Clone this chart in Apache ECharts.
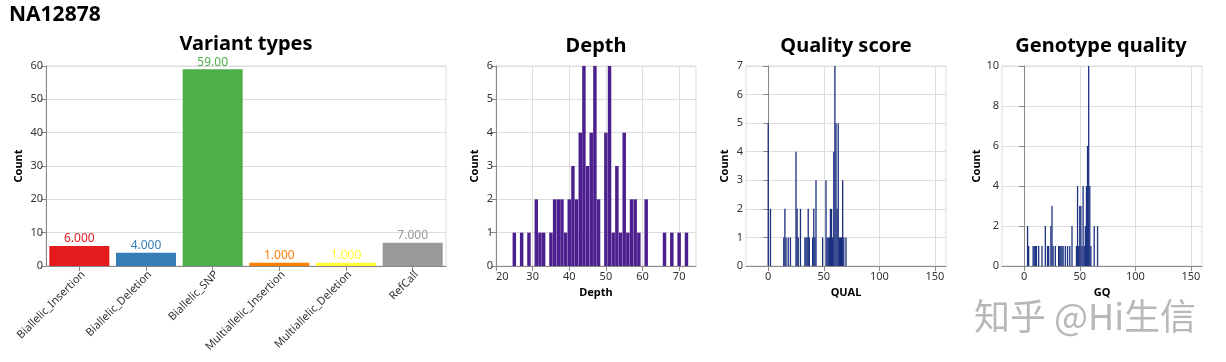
<!DOCTYPE html>
<html>
<head>
<meta charset="utf-8">
<script src="https://cdn.jsdelivr.net/npm/echarts@6/dist/echarts.min.js"></script>
<style>
html,body{margin:0;padding:0;background:#fff;}
#main{width:1226px;height:362px;}
</style>
</head>
<body>
<div id="main"></div>
<script>
// ---------- data ----------
const variantTypes = ['Biallelic_Insertion', 'Biallelic_Deletion', 'Biallelic_SNP', 'Multiallelic_Insertion', 'Multiallelic_Deletion', 'RefCall'];
const variantCounts = [6, 4, 59, 1, 1, 7];

const depthValues = [25, 27, 29, 31, 32, 33, 35, 36, 37, 38, 39, 40, 41, 42, 43, 44, 45, 46, 47, 48, 50, 51, 52, 53, 54, 55, 56, 57, 58, 59, 61, 66, 68, 70, 72];
const depthCounts = [1, 1, 1, 2, 1, 1, 1, 2, 2, 2, 1, 2, 3, 2, 4, 6, 3, 4, 6, 2, 4, 6, 1, 3, 1, 4, 1, 2, 2, 1, 2, 1, 1, 1, 1];

const qualValues = [0, 2, 14, 15, 16, 18, 20, 25, 26, 27, 29, 33, 34, 35, 36, 37, 40, 41, 42, 43, 49, 52, 53, 54, 55, 56, 57, 58, 59, 60, 61, 62, 63, 64, 65, 66, 67, 68, 70];
const qualCounts = [5, 2, 1, 2, 1, 1, 1, 4, 2, 1, 2, 1, 1, 1, 2, 1, 1, 2, 1, 3, 1, 3, 1, 1, 1, 2, 2, 1, 4, 7, 5, 2, 5, 1, 1, 1, 3, 1, 1];

const gqValues = [3, 4, 8, 9, 10, 11, 13, 16, 19, 21, 22, 24, 25, 26, 28, 31, 32, 33, 34, 35, 37, 39, 41, 43, 47, 48, 49, 50, 51, 52, 53, 54, 55, 56, 57, 58, 59, 60, 63, 66];
const gqCounts = [2, 1, 1, 1, 1, 1, 1, 1, 2, 1, 1, 2, 3, 1, 1, 1, 1, 1, 1, 1, 1, 1, 1, 2, 1, 4, 1, 3, 3, 1, 4, 1, 2, 4, 6, 10, 4, 1, 2, 2];

const depthTickValues = [20, 30, 40, 50, 60, 70];
const scoreTickValues = [0, 50, 100, 150];
const depthRange = [20, 74.6];
const scoreRange = [-20, 160];
const countTicks = [{ max: 60, interval: 10 }, { max: 6, interval: 1 }, { max: 7, interval: 1 }, { max: 10, interval: 2 }];

// ---------- styles ----------
const palette = ['#e41a1c', '#377eb8', '#4daf4a', '#ff7f00', '#ffff33', '#999999'];
const FONT = '"Noto Sans", "Open Sans", sans-serif';
const gridBox = [
  { left: 46, top: 66, width: 400, height: 200 },
  { left: 496, top: 66, width: 200, height: 200 },
  { left: 746, top: 66, width: 200, height: 200 },
  { left: 1002, top: 66, width: 200, height: 200 }
];

const chart = echarts.init(document.getElementById('main'), null, { renderer: 'canvas' });

function pairs(xs, ys) { return xs.map((x, i) => [x, ys[i]]); }

function histRender(color, gap, minW) {
  return function (params, api) {
    const x = api.value(0), y = api.value(1);
    const p0 = api.coord([x - 0.5, y]);
    const p1 = api.coord([x + 0.5, 0]);
    const w = Math.max(p1[0] - p0[0] - gap, minW);
    const cx = (p0[0] + p1[0]) / 2;
    return {
      type: 'rect',
      shape: { x: cx - w / 2, y: p0[1], width: w, height: p1[1] - p0[1] },
      style: { fill: color }
    };
  };
}

const axisLineStyle = { show: true, lineStyle: { color: '#888', width: 1 } };
const axisTickStyle = { show: true, length: 5, lineStyle: { color: '#888' } };
const labelStyle = { color: '#333', fontSize: 11, fontFamily: FONT };
const nameStyle = { color: '#000', fontSize: 11, fontWeight: 'bold', fontFamily: FONT };

function yAxis(i) {
  return {
    type: 'value', gridIndex: i, min: 0, max: countTicks[i].max, interval: countTicks[i].interval,
    name: 'Count', nameLocation: 'middle', nameGap: i === 0 ? 22 : 16, nameRotate: 90, nameTextStyle: nameStyle,
    axisLine: axisLineStyle, axisTick: axisTickStyle,
    axisLabel: Object.assign({ margin: 3 }, labelStyle),
    splitLine: { show: true, lineStyle: { color: '#ddd', width: 1 } }
  };
}

function xValueAxis(i, range, ticks, name) {
  return {
    type: 'value', gridIndex: i, min: range[0], max: range[1],
    name: name, nameLocation: 'middle', nameGap: 20, nameTextStyle: nameStyle,
    axisLine: axisLineStyle,
    axisTick: Object.assign({ customValues: ticks }, axisTickStyle),
    axisLabel: Object.assign({ margin: 5, customValues: ticks, alignMinLabel: ticks[0] === range[0] ? 'left' : 'center' }, labelStyle),
    splitLine: { show: true, lineStyle: { color: '#ddd', width: 1 } }
  };
}

const option = {
  backgroundColor: '#fff',
  animation: false,
  textStyle: { fontFamily: FONT },
  grid: gridBox.map(g => Object.assign({ show: true, borderColor: '#ddd', borderWidth: 1, backgroundColor: 'transparent', containLabel: false }, g)),
  xAxis: [
    {
      type: 'category', gridIndex: 0, data: variantTypes,
      axisLine: axisLineStyle, axisTick: Object.assign({ alignWithLabel: true }, axisTickStyle),
      axisLabel: Object.assign({ rotate: 45, margin: 3, interval: 0, verticalAlign: 'top' }, labelStyle),
      splitLine: { show: false }
    },
    xValueAxis(1, depthRange, depthTickValues, 'Depth'),
    xValueAxis(2, scoreRange, scoreTickValues, 'QUAL'),
    xValueAxis(3, scoreRange, scoreTickValues, 'GQ')
  ],
  yAxis: [yAxis(0), yAxis(1), yAxis(2), yAxis(3)],
  series: [
    {
      type: 'bar', xAxisIndex: 0, yAxisIndex: 0, barCategoryGap: '10%',
      data: variantCounts.map((v, i) => ({ value: v, itemStyle: { color: palette[i] }, label: { color: palette[i] } })),
      label: { show: true, position: 'top', distance: 1, fontSize: 12, fontFamily: FONT, formatter: p => Number(p.value).toPrecision(4) }
    },
    {
      type: 'custom', xAxisIndex: 1, yAxisIndex: 1, encode: { x: 0, y: 1 },
      renderItem: histRender('#4b1f8e', 0.2, 1), data: pairs(depthValues, depthCounts)
    },
    {
      type: 'custom', xAxisIndex: 2, yAxisIndex: 2, encode: { x: 0, y: 1 },
      renderItem: histRender('#1a2e7e', 0, 1.3), data: pairs(qualValues, qualCounts)
    },
    {
      type: 'custom', xAxisIndex: 3, yAxisIndex: 3, encode: { x: 0, y: 1 },
      renderItem: histRender('#1c3282', 0, 1.3), data: pairs(gqValues, gqCounts)
    }
  ],
  graphic: [
    { type: 'text', left: 9, top: 5, style: { text: 'NA12878', font: 'bold 21px ' + FONT, fill: '#000' } },
    { type: 'text', x: 246, y: 44, style: { text: 'Variant types', font: 'bold 20px ' + FONT, fill: '#000', align: 'center', verticalAlign: 'middle' } },
    { type: 'text', x: 596, y: 46, style: { text: 'Depth', font: 'bold 20px ' + FONT, fill: '#000', align: 'center', verticalAlign: 'middle' } },
    { type: 'text', x: 846, y: 46, style: { text: 'Quality score', font: 'bold 20px ' + FONT, fill: '#000', align: 'center', verticalAlign: 'middle' } },
    { type: 'text', x: 1101, y: 46, style: { text: 'Genotype quality', font: 'bold 20px ' + FONT, fill: '#000', align: 'center', verticalAlign: 'middle' } },
    { type: 'text', x: 1085, y: 316, z: 100, style: { text: '知乎 @Hi生信', font: '36px "Noto Sans CJK SC", sans-serif', fill: 'rgba(160,160,160,0.75)', align: 'center', verticalAlign: 'middle' } }
  ]
};
chart.setOption(option);
</script>
</body>
</html>
